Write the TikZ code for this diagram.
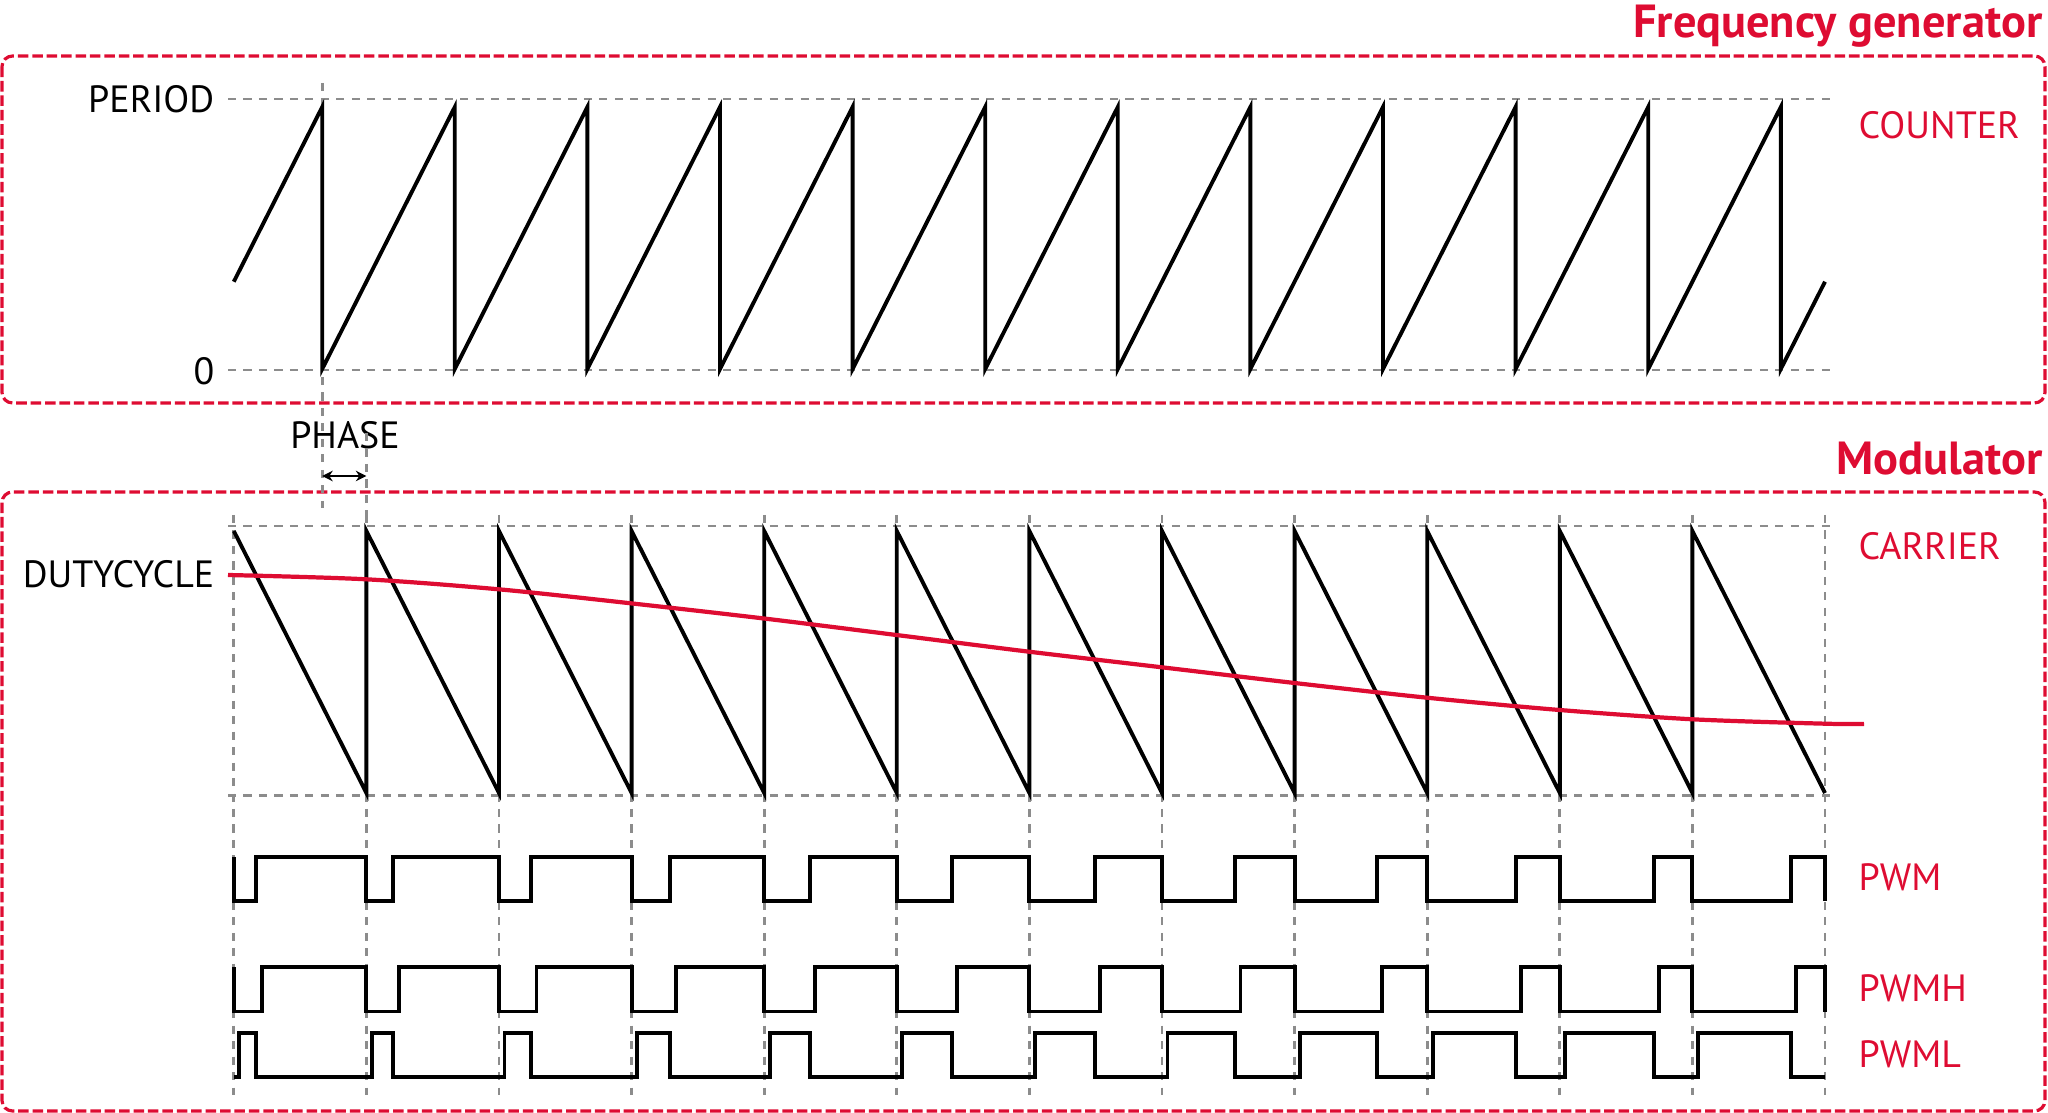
\documentclass[tikz,border=0pt]{standalone}
\usepackage{fontspec}
\setmainfont{PT Sans}
\usepackage{tikz}
\usetikzlibrary{calc,arrows.meta}
\definecolor{atred}{RGB}{222,12,50}
\definecolor{guidegray}{RGB}{140,140,140}

\def\xstart{233.8}
\def\perd{132.6}
\def\dead{5.5}

\begin{document}
\begin{tikzpicture}[
    x=0.01cm, y=-0.01cm,
    font=\fontsize{10.8}{12}\selectfont,
    block/.style={draw=atred, line width=0.9pt, dash pattern=on 3pt off 1.1pt, rounded corners=3pt},
    blocktitle/.style={text=atred, font=\fontsize{13.2}{15}\selectfont\bfseries, inner sep=0pt, anchor=base east},
    lbl/.style={inner sep=0pt, anchor=east},
    sig/.style={text=atred, inner sep=0pt, anchor=west},
    guideline/.style={draw=guidegray, line width=0.8pt, dash pattern=on 2.3pt off 2.1pt},
    wave/.style={draw=black, line width=1.1pt},
    duty/.style={draw=atred, line width=1.2pt},
    phasearrow/.style={{Stealth[length=3pt,width=3pt]}-{Stealth[length=3pt,width=3pt]}, line width=0.6pt}
]
\useasboundingbox (0,0) rectangle (2048,1113);

% blocks
\draw[block] (2,56) rectangle (2045,403);
\draw[block] (2,492) rectangle (2045,1111);
\node[blocktitle] (freqtitle) at (2043,38) {Frequency generator};
\node[blocktitle] (modtitle) at (2043,475) {Modulator};

% frequency generator
\draw[guideline] (228,99) -- (1830,99);
\draw[guideline] (228,370) -- (1830,370);
\draw[guideline] (322.2,83) -- (322.2,508);
\node[lbl] (period) at (215,99) {PERIOD};
\node[lbl] (zero) at (215,371) {0};
\node[sig] (counter) at (1858,125) {COUNTER};

\draw[wave] (\xstart,281.7) \foreach \kk in {0,...,11} {
    -- ({\xstart+(\kk+2/3)*\perd},107) -- ({\xstart+(\kk+2/3)*\perd},369) } -- (1825,281.7);

% phase
\node[inner sep=0pt] (phase) at (345,435.5) {PHASE};
\coordinate (phaseL) at (322.2,476);
\coordinate (phaseR) at (366.4,476);
\draw[phasearrow] (phaseL) -- (phaseR);
\draw[guideline] (366.4,433) -- (366.4,515);

% modulator
\draw[guideline] (228,526) -- (1830,526);
\draw[guideline] (228,795.5) -- (1830,795.5);
\foreach \kk in {0,...,12}
    \draw[guideline] ({\xstart+\kk*\perd},515) -- ({\xstart+\kk*\perd},1095);

\node[lbl] (dutycycle) at (215,574) {DUTYCYCLE};
\node[sig] (carrier) at (1858,546) {CARRIER};
\node[sig] (pwm) at (1858,877) {PWM};
\node[sig] (pwmh) at (1858,988.6) {PWMH};
\node[sig] (pwml) at (1858,1054) {PWML};

\draw[wave] (\xstart,531) \foreach \kk in {1,...,11} {
    -- ({\xstart+\kk*\perd},793) -- ({\xstart+\kk*\perd},531) } -- ({\xstart+12*\perd},793);

\draw[duty] plot[smooth] coordinates {(228,575) (366,579.3) (498.6,589.3) (630.7,603.3)
    (764,618.5) (896.4,635) (1029,651.7) (1161.8,667.3) (1294.5,683) (1427,697.7)
    (1559.6,710) (1692.5,719.3) (1825,723.7) (1864,724)};

% PWM, PWMH, PWML
\draw[wave] (\xstart,857) -- (\xstart,901) \foreach \kk/\rise in {0/22.5,1/27,2/32,3/38.5,4/45.5,5/55,6/65.5,7/73,8/82,9/88.5,10/94,11/98.5} {
    -- ({\xstart+\kk*\perd+\rise},901) -- ({\xstart+\kk*\perd+\rise},857)
    -- ({\xstart+(\kk+1)*\perd},857) -- ({\xstart+(\kk+1)*\perd},901) };

\draw[wave] (\xstart,967) -- (\xstart,1011.5) \foreach \kk/\rise in {0/22.5,1/27,2/32,3/38.5,4/45.5,5/55,6/65.5,7/73,8/82,9/88.5,10/94,11/98.5} {
    -- ({\xstart+\kk*\perd+\rise+\dead},1011.5) -- ({\xstart+\kk*\perd+\rise+\dead},967)
    -- ({\xstart+(\kk+1)*\perd},967) -- ({\xstart+(\kk+1)*\perd},1011.5) };

\draw[wave] (\xstart,1077) \foreach \kk/\rise in {0/22.5,1/27,2/32,3/38.5,4/45.5,5/55,6/65.5,7/73,8/82,9/88.5,10/94,11/98.5} {
    -- ({\xstart+\kk*\perd+\dead},1077) -- ({\xstart+\kk*\perd+\dead},1033)
    -- ({\xstart+\kk*\perd+\rise},1033) -- ({\xstart+\kk*\perd+\rise},1077)
    -- ({\xstart+(\kk+1)*\perd},1077) };
\end{tikzpicture}
\end{document}
